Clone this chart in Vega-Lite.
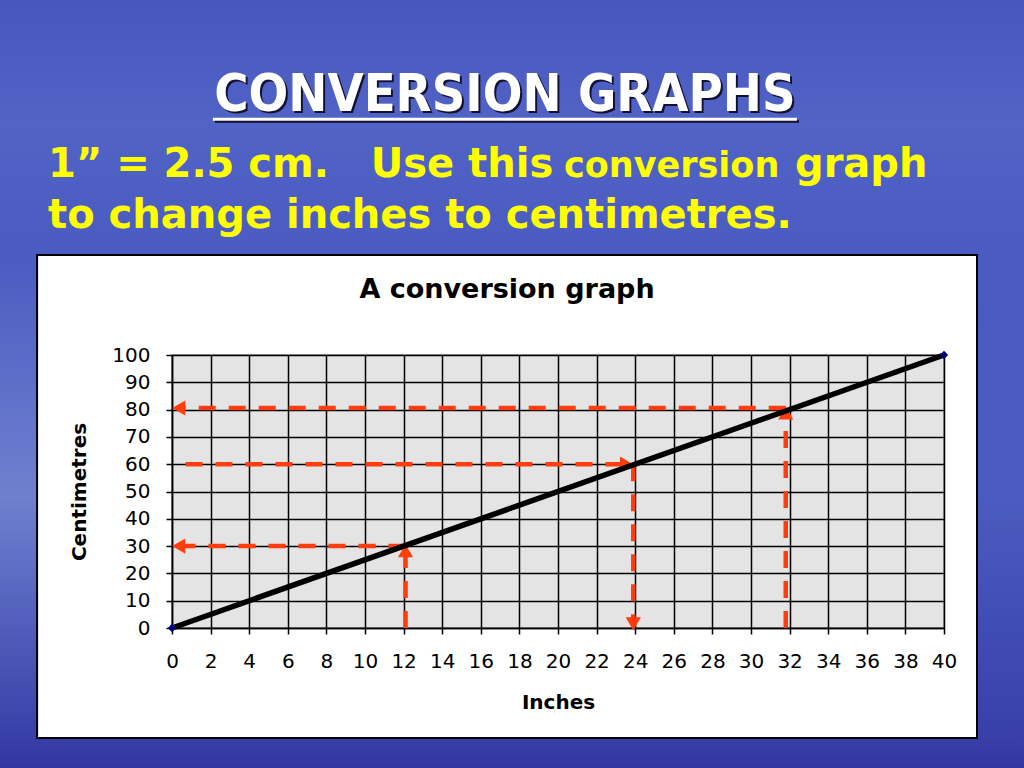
{
  "$schema": "https://vega.github.io/schema/vega-lite/v6.json",
  "width": 772,
  "height": 273,
  "autosize": {"type": "none"},
  "padding": {"left": 172, "top": 355, "right": 80, "bottom": 140},
  "background": "white",
  "datasets": {
    "conversion": [
      {"inches": 0, "cm": 0},
      {"inches": 40, "cm": 100}
    ],
    "guides": [
      {"guide": "80 cm", "from_in": 31.8, "from_cm": 80.6, "to_in": 0.6, "to_cm": 80.6},
      {"guide": "32 in", "from_in": 31.8, "from_cm": 0, "to_in": 31.8, "to_cm": 78.5},
      {"guide": "60 cm", "from_in": 0.7, "from_cm": 60, "to_in": 23.3, "to_cm": 60},
      {"guide": "24 in", "from_in": 23.9, "from_cm": 60, "to_in": 23.9, "to_cm": 2},
      {"guide": "30 cm", "from_in": 12.1, "from_cm": 30, "to_in": 0.6, "to_cm": 30},
      {"guide": "12 in", "from_in": 12.1, "from_cm": 0, "to_in": 12.1, "to_cm": 28}
    ],
    "arrows": [
      {"inches": 0.35, "cm": 80.6, "dir": "left"},
      {"inches": 31.8, "cm": 78.8, "dir": "up"},
      {"inches": 23.55, "cm": 60, "dir": "right"},
      {"inches": 23.9, "cm": 1.5, "dir": "down"},
      {"inches": 0.35, "cm": 30, "dir": "left"},
      {"inches": 12.1, "cm": 28.3, "dir": "up"}
    ],
    "one": [{}]
  },
  "layer": [
    {
      "data": {"name": "one"},
      "mark": {"type": "rect", "clip": false, "color": {"gradient": "linear", "x1": 0, "y1": 0, "x2": 0, "y2": 1, "stops": [{"offset": 0, "color": "#4656bd"}, {"offset": 0.5, "color": "#5263c6"}, {"offset": 1, "color": "#4a5bc1"}]}},
      "encoding": {
        "x": {"datum": -10, "type": "quantitative"},
        "x2": {"datum": 46},
        "y": {"datum": 136.63, "type": "quantitative"},
        "y2": {"datum": 232}
      }
    },
    {
      "data": {"name": "one"},
      "mark": {"type": "rect", "clip": false, "color": {"gradient": "linear", "x1": 0, "y1": 0, "x2": 0, "y2": 1, "stops": [{"offset": 0, "color": "#3840a8"}, {"offset": 1, "color": "#2f359c"}]}},
      "encoding": {
        "x": {"datum": -10, "type": "quantitative"},
        "x2": {"datum": 46},
        "y": {"datum": -53, "type": "quantitative"},
        "y2": {"datum": -40.29}
      }
    },
    {
      "data": {"name": "one"},
      "mark": {"type": "rect", "clip": false, "color": {"gradient": "linear", "x1": 0, "y1": 0, "x2": 0, "y2": 1, "stops": [{"offset": 0, "color": "#4a5bc1"}, {"offset": 0.5, "color": "#6f80cf"}, {"offset": 1, "color": "#3840a8"}]}},
      "encoding": {
        "x": {"datum": -10, "type": "quantitative"},
        "x2": {"datum": -6.99},
        "y": {"datum": -40.29, "type": "quantitative"},
        "y2": {"datum": 136.63}
      }
    },
    {
      "data": {"name": "one"},
      "mark": {"type": "rect", "clip": false, "color": {"gradient": "linear", "x1": 0, "y1": 0, "x2": 0, "y2": 1, "stops": [{"offset": 0, "color": "#4a5bc1"}, {"offset": 0.5, "color": "#4c5bbf"}, {"offset": 1, "color": "#3840a8"}]}},
      "encoding": {
        "x": {"datum": 41.71, "type": "quantitative"},
        "x2": {"datum": 46},
        "y": {"datum": -40.29, "type": "quantitative"},
        "y2": {"datum": 136.63}
      }
    },
    {
      "data": {"name": "one"},
      "mark": {"type": "rect", "fill": "white", "fillOpacity": 0, "stroke": "black", "strokeWidth": 2, "clip": false},
      "encoding": {
        "x": {"datum": -6.99, "type": "quantitative"},
        "x2": {"datum": 41.71},
        "y": {"datum": -40.29, "type": "quantitative"},
        "y2": {"datum": 136.63}
      }
    },
    {
      "data": {"name": "one"},
      "mark": {"type": "text", "align": "center", "baseline": "alphabetic", "font": "DejaVu Sans Condensed", "fontWeight": "bold", "fontSize": 52, "color": "#111133", "dx": 2, "dy": 2, "clip": false},
      "encoding": {
        "x": {"datum": 17.25, "type": "quantitative"},
        "y": {"datum": 189.4, "type": "quantitative"},
        "text": {"value": "CONVERSION GRAPHS"}
      }
    },
    {
      "data": {"name": "one"},
      "mark": {"type": "text", "align": "center", "baseline": "alphabetic", "font": "DejaVu Sans Condensed", "fontWeight": "bold", "fontSize": 52, "color": "white", "clip": false},
      "encoding": {
        "x": {"datum": 17.25, "type": "quantitative"},
        "y": {"datum": 189.4, "type": "quantitative"},
        "text": {"value": "CONVERSION GRAPHS"}
      }
    },
    {
      "data": {"name": "one"},
      "mark": {"type": "rule", "color": "#111133", "strokeWidth": 3, "clip": false},
      "encoding": {
        "x": {"datum": 2.22, "type": "quantitative"},
        "x2": {"datum": 32.48},
        "y": {"datum": 185.6, "type": "quantitative"}
      }
    },
    {
      "data": {"name": "one"},
      "mark": {"type": "rule", "color": "white", "strokeWidth": 3, "clip": false},
      "encoding": {
        "x": {"datum": 2.12, "type": "quantitative"},
        "x2": {"datum": 32.38},
        "y": {"datum": 186.4, "type": "quantitative"}
      }
    },
    {
      "data": {"name": "one"},
      "mark": {"type": "text", "align": "left", "baseline": "alphabetic", "font": "DejaVu Sans", "fontWeight": "bold", "fontSize": 40, "color": "#ffff00", "clip": false},
      "encoding": {
        "x": {"datum": -6.42, "type": "quantitative"},
        "y": {"datum": 165.2, "type": "quantitative"},
        "text": {"value": "1” = 2.5 cm.\u00a0\u00a0 Use this"}
      }
    },
    {
      "data": {"name": "one"},
      "mark": {"type": "text", "align": "left", "baseline": "alphabetic", "font": "DejaVu Sans", "fontWeight": "bold", "fontSize": 35, "color": "#ffff00", "clip": false},
      "encoding": {
        "x": {"datum": 20.31, "type": "quantitative"},
        "y": {"datum": 165.2, "type": "quantitative"},
        "text": {"value": "conversion"}
      }
    },
    {
      "data": {"name": "one"},
      "mark": {"type": "text", "align": "left", "baseline": "alphabetic", "font": "DejaVu Sans", "fontWeight": "bold", "fontSize": 40, "color": "#ffff00", "clip": false},
      "encoding": {
        "x": {"datum": 32.28, "type": "quantitative"},
        "y": {"datum": 165.2, "type": "quantitative"},
        "text": {"value": "graph"}
      }
    },
    {
      "data": {"name": "one"},
      "mark": {"type": "text", "align": "left", "baseline": "alphabetic", "font": "DejaVu Sans", "fontWeight": "bold", "fontSize": 40, "color": "#ffff00", "clip": false},
      "encoding": {
        "x": {"datum": -6.42, "type": "quantitative"},
        "y": {"datum": 146.5, "type": "quantitative"},
        "text": {"value": "to change inches to centimetres."}
      }
    },
    {
      "data": {"name": "one"},
      "mark": {"type": "text", "align": "center", "baseline": "alphabetic", "font": "DejaVu Sans", "fontWeight": "bold", "fontSize": 27, "color": "black", "clip": false},
      "encoding": {
        "x": {"datum": 17.36, "type": "quantitative"},
        "y": {"datum": 120.9, "type": "quantitative"},
        "text": {"value": "A conversion graph"}
      }
    },
    {
      "data": {"name": "guides"},
      "mark": {"type": "rule", "color": "#ff3d0d", "strokeWidth": 4.5, "strokeDash": [17, 13], "clip": false},
      "encoding": {
        "x": {"field": "from_in", "type": "quantitative"},
        "x2": {"field": "to_in"},
        "y": {"field": "from_cm", "type": "quantitative"},
        "y2": {"field": "to_cm"},
        "detail": {"field": "guide"}
      }
    },
    {
      "data": {"name": "arrows"},
      "mark": {"type": "point", "filled": true, "color": "#ff3d0d", "size": 230, "opacity": 1, "clip": false},
      "encoding": {
        "x": {"field": "inches", "type": "quantitative"},
        "y": {"field": "cm", "type": "quantitative"},
        "shape": {
          "field": "dir",
          "type": "nominal",
          "scale": {"domain": ["left", "right", "up", "down"], "range": ["triangle-left", "triangle-right", "triangle-up", "triangle-down"]},
          "legend": null
        }
      }
    },
    {
      "data": {"name": "conversion"},
      "mark": {"type": "line", "color": "black", "strokeWidth": 5.5, "clip": false},
      "encoding": {
        "x": {
          "field": "inches",
          "type": "quantitative",
          "scale": {"domain": [0, 40], "nice": false, "zero": true},
          "axis": {"title": "Inches", "values": [0, 2, 4, 6, 8, 10, 12, 14, 16, 18, 20, 22, 24, 26, 28, 30, 32, 34, 36, 38, 40], "tickCount": 50, "labelPadding": 17, "titlePadding": 21}
        },
        "y": {
          "field": "cm",
          "type": "quantitative",
          "scale": {"domain": [0, 100], "nice": false, "zero": true},
          "axis": {"title": "Centimetres", "values": [0, 10, 20, 30, 40, 50, 60, 70, 80, 90, 100], "tickCount": 50, "labelPadding": 16, "titlePadding": 22}
        }
      }
    },
    {
      "data": {"name": "conversion"},
      "mark": {"type": "point", "shape": "diamond", "filled": true, "color": "#000080", "size": 70, "opacity": 1, "clip": false},
      "encoding": {
        "x": {"field": "inches", "type": "quantitative"},
        "y": {"field": "cm", "type": "quantitative"}
      }
    }
  ],
  "config": {
    "view": {"fill": "#e4e4e4", "stroke": "#8a8a8a", "strokeWidth": 1.5},
    "axis": {
      "grid": true,
      "gridColor": "black",
      "gridOpacity": 1,
      "gridWidth": 1.5,
      "domainColor": "black",
      "domainWidth": 1.5,
      "tickColor": "black",
      "tickSize": 6,
      "tickWidth": 1.5,
      "labelFont": "DejaVu Sans",
      "labelFontSize": 20,
      "labelColor": "black",
      "labelOverlap": false,
      "labelFlush": false,
      "titleFont": "DejaVu Sans",
      "titleFontSize": 20,
      "titleFontWeight": "bold",
      "titleColor": "black"
    }
  }
}
